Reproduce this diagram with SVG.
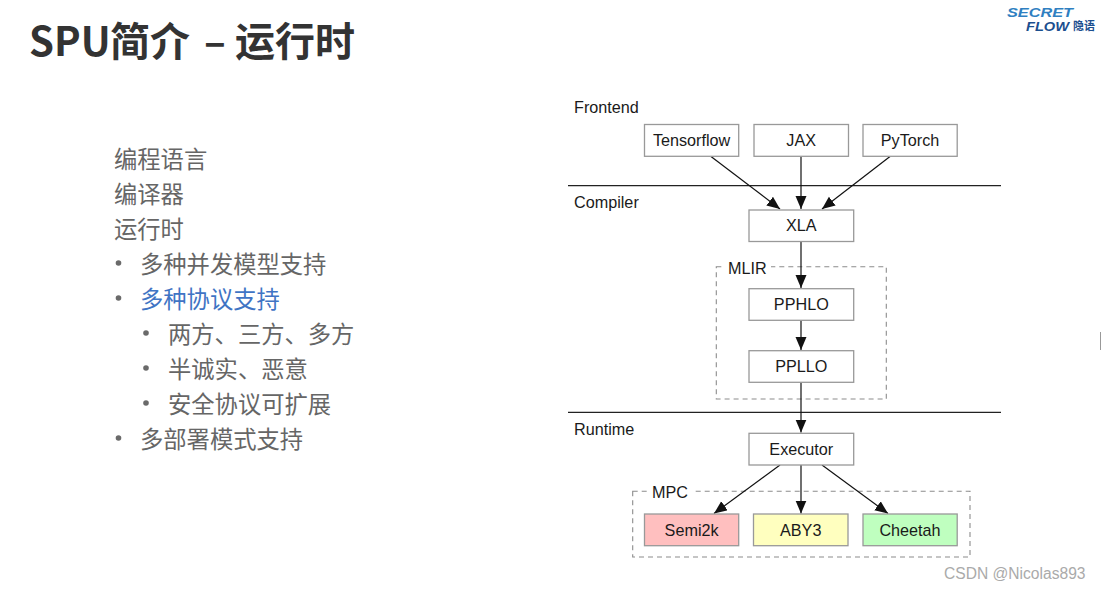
<svg xmlns="http://www.w3.org/2000/svg" width="1101" height="589" viewBox="0 0 1101 589">
<style>
.cjk{font-family:"Noto Sans CJK SC","Noto Sans",sans-serif}
.t{font-size:23.3px;fill:#666}
.b{fill:#6a6a6a}
.lab{font-family:"Liberation Sans",Arial,sans-serif;font-size:16.2px;fill:#1a1a1a}
.ctr{text-anchor:middle}
.box{stroke:#999;stroke-width:1.3}
.dash{fill:none;stroke:#8c8c8c;stroke-width:1.1;stroke-dasharray:5 4}
.sep{stroke:#222;stroke-width:1.2}
.con{stroke:#111;stroke-width:1.2;fill:none;marker-end:url(#arr)}
.mask{fill:#fff}
</style>
<defs>
<marker id="arr" markerUnits="userSpaceOnUse" markerWidth="14" markerHeight="12" refX="13" refY="5.5" orient="auto">
<path d="M0 0L13 5.5L0 11Z" fill="#111"/>
</marker>
</defs>
<rect width="1101" height="589" fill="#fff"/>
<g id="title"><text class="cjk" y="56" font-size="40" font-weight="700" fill="#333"><tspan x="29">SPU</tspan><tspan x="110">简介</tspan><tspan x="204">–</tspan><tspan x="235">运行时</tspan></text></g>
<g id="logo" font-family="'Liberation Sans',sans-serif" font-style="italic" font-weight="700">
<text x="1007" y="17" font-size="12.5" fill="#2f7fc1" textLength="66" lengthAdjust="spacingAndGlyphs">SECRET</text>
<text x="1026" y="31" font-size="12.5" fill="#1c4f8f" textLength="43" lengthAdjust="spacingAndGlyphs">FLOW</text>
<text x="1073" y="30" class="cjk" font-size="11" font-style="normal" fill="#1c4f8f">隐语</text>
</g>
<g id="bullets" class="cjk">
<text class="t" x="114" y="168">编程语言</text>
<text class="t" x="114" y="203">编译器</text>
<text class="t" x="114" y="238">运行时</text>
<circle class="b" cx="118.500" cy="263" r="2.8"/><text class="t" x="140" y="273">多种并发模型支持</text>
<circle class="b" cx="118.500" cy="298" r="2.8"/><text class="t" x="140" y="308" style="fill:#3f74c4">多种协议支持</text>
<circle class="b" cx="146" cy="333" r="2.8"/><text class="t" x="168" y="343">两方、三方、多方</text>
<circle class="b" cx="146" cy="368" r="2.8"/><text class="t" x="168" y="378">半诚实、恶意</text>
<circle class="b" cx="146" cy="403" r="2.8"/><text class="t" x="168" y="413">安全协议可扩展</text>
<circle class="b" cx="118.500" cy="438" r="2.8"/><text class="t" x="140" y="448">多部署模式支持</text>
</g>
<g id="layers">
<line class="sep" x1="568" y1="185.7" x2="1001" y2="185.7"/>
<line class="sep" x1="568" y1="412.3" x2="1001" y2="412.3"/>
<text class="lab" x="574" y="113">Frontend</text>
<text class="lab" x="574" y="208">Compiler</text>
<text class="lab" x="574" y="435">Runtime</text>
</g>
<g id="mlir-group">
<rect class="dash" x="716.3" y="266.7" width="170" height="132.3"/>
<rect class="mask" x="722" y="260" width="49" height="14"/>
<text class="lab" x="728" y="274">MLIR</text>
</g>
<g id="mpc-group">
<rect class="dash" x="632.7" y="491.3" width="337.3" height="65.7"/>
<rect class="mask" x="648" y="485" width="45" height="14"/>
<text class="lab" x="652" y="498">MPC</text>
</g>
<g id="connectors">
<line class="con" x1="711" y1="156.5" x2="780" y2="209"/>
<line class="con" x1="801" y1="156.5" x2="801" y2="209"/>
<line class="con" x1="890" y1="156.5" x2="822" y2="209"/>
<line class="con" x1="801" y1="241.5" x2="801" y2="288"/>
<line class="con" x1="801" y1="320.5" x2="801" y2="350"/>
<line class="con" x1="801" y1="382.5" x2="801" y2="432.5"/>
<line class="con" x1="780" y1="465" x2="714" y2="513.5"/>
<line class="con" x1="801" y1="465" x2="801" y2="513.5"/>
<line class="con" x1="822" y1="465" x2="888" y2="513.5"/>
</g>
<g id="n-tensorflow"><rect class="box" x="644.5" y="124.5" width="94.2" height="31.8" fill="#fff"/><text class="lab ctr" x="691.6" y="146">Tensorflow</text></g>
<g id="n-jax"><rect class="box" x="754" y="124.5" width="94.5" height="31.8" fill="#fff"/><text class="lab ctr" x="801.2" y="146">JAX</text></g>
<g id="n-pytorch"><rect class="box" x="863" y="124.5" width="94.2" height="31.8" fill="#fff"/><text class="lab ctr" x="910" y="146">PyTorch</text></g>
<g id="n-xla"><rect class="box" x="749" y="210" width="104.7" height="31.5" fill="#fff"/><text class="lab ctr" x="801.3" y="231">XLA</text></g>
<g id="n-pphlo"><rect class="box" x="749" y="288.7" width="104.7" height="31.6" fill="#fff"/><text class="lab ctr" x="801.3" y="310">PPHLO</text></g>
<g id="n-ppllo"><rect class="box" x="749" y="350.7" width="104.7" height="31.6" fill="#fff"/><text class="lab ctr" x="801.3" y="372">PPLLO</text></g>
<g id="n-executor"><rect class="box" x="749" y="433.3" width="104.7" height="31.7" fill="#fff"/><text class="lab ctr" x="801.3" y="455">Executor</text></g>
<g id="n-semi2k"><rect class="box" x="644.5" y="514" width="94.2" height="31.7" fill="#ffbfbf"/><text class="lab ctr" x="691.6" y="536">Semi2k</text></g>
<g id="n-aby3"><rect class="box" x="753.5" y="514" width="94.5" height="31.7" fill="#ffffbf"/><text class="lab ctr" x="800.7" y="536">ABY3</text></g>
<g id="n-cheetah"><rect class="box" x="863" y="514" width="94.2" height="31.7" fill="#bfffbf"/><text class="lab ctr" x="910" y="536">Cheetah</text></g>
<rect x="1100" y="332" width="1" height="18" fill="#999"/>
<text x="944" y="579" font-family="'Liberation Sans',sans-serif" font-size="15.6" fill="#aaa">CSDN @Nicolas893</text>
</svg>
